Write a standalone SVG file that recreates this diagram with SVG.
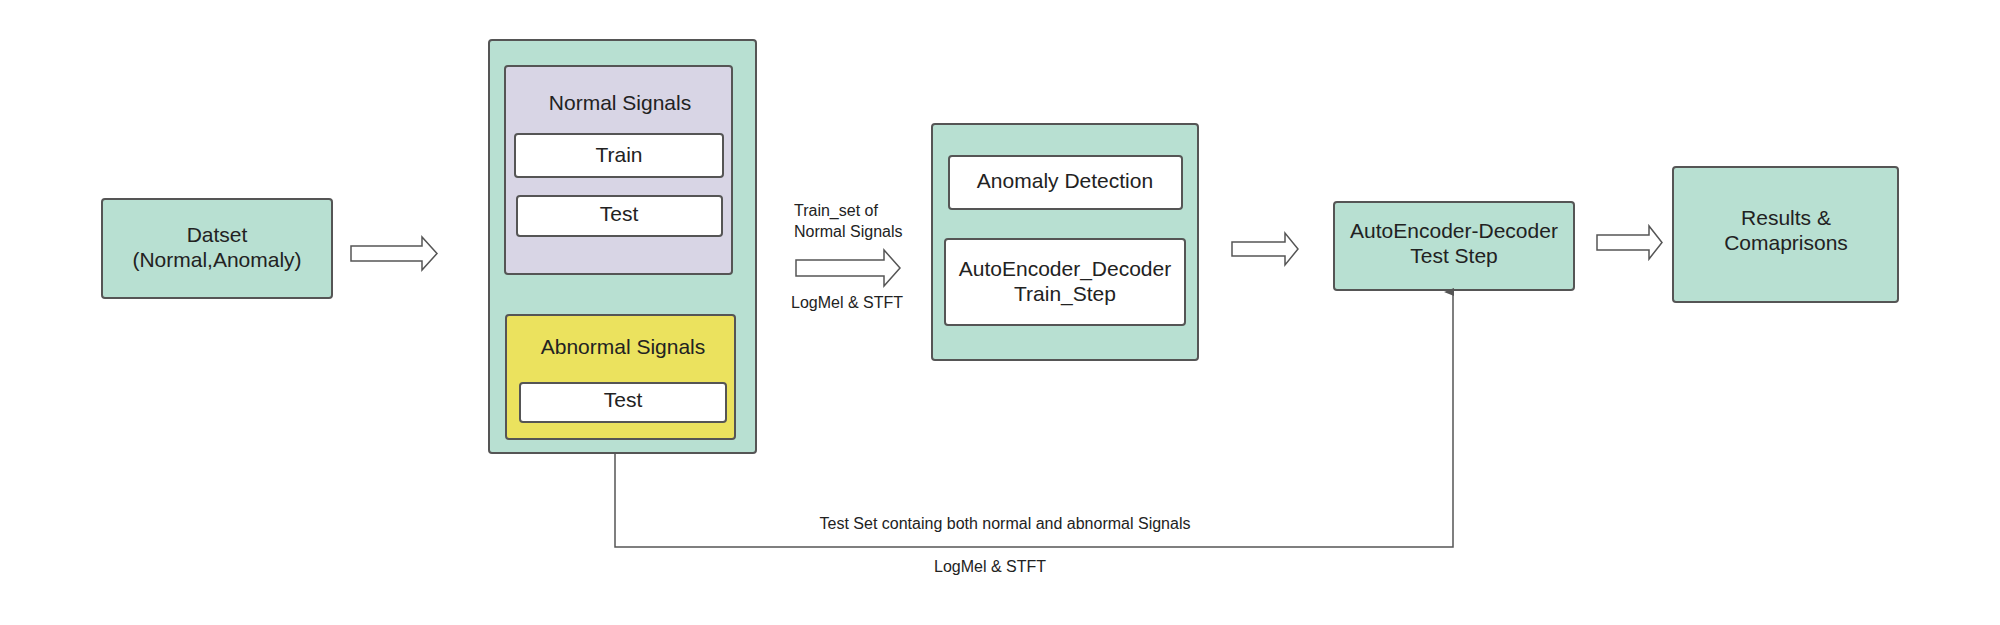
<svg xmlns="http://www.w3.org/2000/svg" width="2000" height="625" viewBox="0 0 2000 625">
<style>
.b{stroke:#555;stroke-width:2}
.g{fill:#b8e0d2}
.w{fill:#fff}
t,text{font-family:"Liberation Sans",Arial,sans-serif;fill:#222}
.t{font-size:21px;text-anchor:middle}
.s{font-size:16px}
.ba{fill:#fff;stroke:#555;stroke-width:1.5}
</style>
<defs><marker id="ah" markerWidth="10" markerHeight="10" refX="5" refY="9" orient="auto" markerUnits="userSpaceOnUse"><path d="M1,10 L5,0 L9,10 Z" fill="#555"/></marker></defs>
<rect width="2000" height="625" fill="#fff"/>
<g id="dataset"><rect class="b g" x="102" y="199" width="230" height="99" rx="3"/><text class="t" x="217" y="242">Datset</text><text class="t" x="217" y="267">(Normal,Anomaly)</text></g>
<g id="signals"><rect class="b g" x="489" y="40" width="267" height="413" rx="3"/>
<g id="normal"><rect class="b" fill="#d8d5e5" x="505" y="66" width="227" height="208" rx="3"/><text class="t" x="620" y="110">Normal Signals</text>
<rect class="b w" x="515" y="134" width="208" height="43" rx="3"/><text class="t" x="619" y="162">Train</text>
<rect class="b w" x="517" y="196" width="205" height="40" rx="3"/><text class="t" x="619" y="221">Test</text></g>
<g id="abnormal"><rect class="b" fill="#ebe25e" x="506" y="315" width="229" height="124" rx="3"/><text class="t" x="623" y="354">Abnormal Signals</text>
<rect class="b w" x="520" y="383" width="206" height="39" rx="3"/><text class="t" x="623" y="407">Test</text></g></g>
<g id="training"><rect class="b g" x="932" y="124" width="266" height="236" rx="3"/>
<rect class="b w" x="949" y="156" width="233" height="53" rx="3"/><text class="t" x="1065" y="188">Anomaly Detection</text>
<rect class="b w" x="945" y="239" width="240" height="86" rx="3"/><text class="t" x="1065" y="276">AutoEncoder_Decoder</text><text class="t" x="1065" y="301">Train_Step</text></g>
<g id="test-step"><rect class="b g" x="1334" y="202" width="240" height="88" rx="3"/><text class="t" x="1454" y="238">AutoEncoder-Decoder</text><text class="t" x="1454" y="263">Test Step</text></g>
<g id="results"><rect class="b g" x="1673" y="167" width="225" height="135" rx="3"/><text class="t" x="1786" y="225">Results &amp;</text><text class="t" x="1786" y="250">Comaprisons</text></g>
<g id="connectors">
<path class="ba" d="M351,246 H422 V237 L437,253.5 L422,270 V261 H351 Z"/>
<path class="ba" d="M796,260 H884 V250 L900,268 L884,286 V276 H796 Z"/>
<path class="ba" d="M1232,242 H1285 V233 L1298,249 L1285,265 V256 H1232 Z"/>
<path class="ba" d="M1597,235 H1649 V226 L1662,242.5 L1649,259 V250 H1597 Z"/>
<path d="M615,453 V547 H1453 V292" fill="none" stroke="#555" stroke-width="1.5" marker-end="url(#ah)"/>
<text class="s" x="794" y="216">Train_set of</text><text class="s" x="794" y="237">Normal Signals</text>
<text class="s" x="847" y="308" text-anchor="middle">LogMel &amp; STFT</text>
<text class="s" x="1005" y="529" text-anchor="middle">Test Set containg both normal and abnormal Signals</text>
<text class="s" x="990" y="572" text-anchor="middle">LogMel &amp; STFT</text>
</g>
</svg>
